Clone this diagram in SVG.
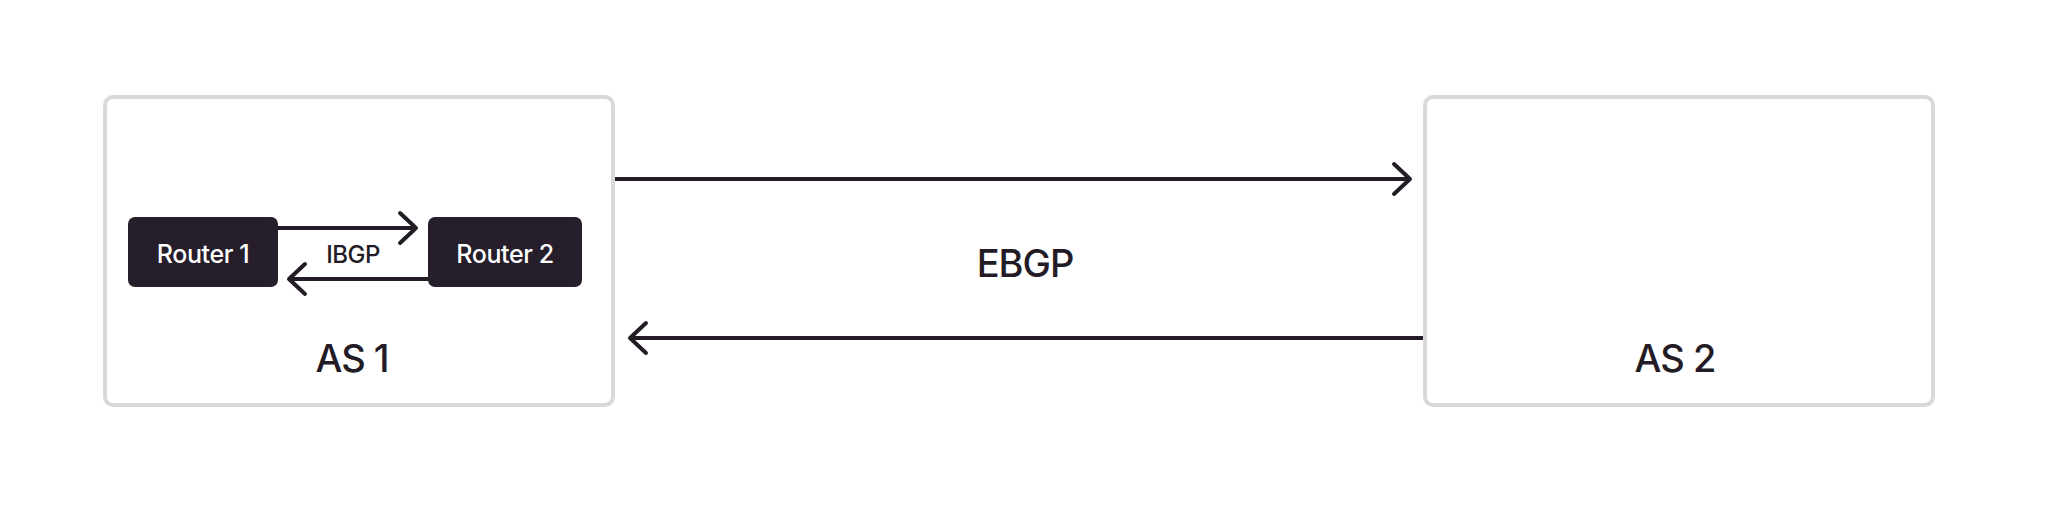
<svg xmlns="http://www.w3.org/2000/svg" width="2048" height="517" viewBox="0 0 2048 517">
  <style>
    .as { fill: #ffffff; stroke: #d9d9d9; stroke-width: 4; }
    .router { fill: #261e2a; }
    .rtext { font-family: Inter, "Noto Sans", "Liberation Sans", sans-serif; font-size: 25px; font-weight: 500; letter-spacing: -0.4px; fill: #ffffff; text-anchor: middle; }
    .lbl { font-family: Inter, "Noto Sans", "Liberation Sans", sans-serif; font-weight: 500; fill: #231c26; text-anchor: middle; }
    .big { font-size: 38px; letter-spacing: -1px; }
    .conn { fill: none; stroke: #231c26; stroke-width: 4; }
  </style>
  <defs>
    <marker id="chev" markerUnits="userSpaceOnUse" markerWidth="40" markerHeight="40" viewBox="-20 -20 40 40" refX="0" refY="0" orient="auto" overflow="visible">
      <path d="M-16,-15 L0,0 L-16,15" fill="none" stroke="#231c26" stroke-width="4" stroke-linecap="round" stroke-linejoin="round"/>
    </marker>
  </defs>
  <rect width="2048" height="517" fill="#ffffff"/>

  <g id="as1">
    <rect class="as" x="105" y="97" width="508" height="308" rx="8"/>
    <text class="lbl big" x="352" y="372">AS 1</text>
  </g>
  <g id="as2">
    <rect class="as" x="1425" y="97" width="508" height="308" rx="8"/>
    <text class="lbl big" x="1675" y="372">AS 2</text>
  </g>
  <g id="router1">
    <rect class="router" x="128" y="217" width="150" height="70" rx="7"/>
    <text class="rtext" x="203" y="263">Router 1</text>
  </g>
  <g id="router2">
    <rect class="router" x="428" y="217" width="154" height="70" rx="7"/>
    <text class="rtext" x="505" y="263">Router 2</text>
  </g>

  <g id="connectors">
    <path class="conn" d="M278,228 L416,228" marker-end="url(#chev)"/>
    <path class="conn" d="M428,279 L289,279" marker-end="url(#chev)"/>
    <text class="lbl" x="353" y="263" font-size="24" letter-spacing="-0.5">IBGP</text>
    <path class="conn" d="M615,179 L1410,179" marker-end="url(#chev)"/>
    <path class="conn" d="M1423,338 L630,338" marker-end="url(#chev)"/>
    <text class="lbl big" x="1025" y="277">EBGP</text>
  </g>
</svg>
